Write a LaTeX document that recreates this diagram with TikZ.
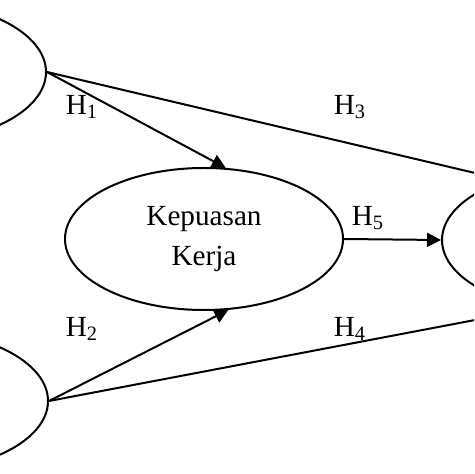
\documentclass[tikz,border=0pt]{standalone}
\usepackage{fontspec}
\setmainfont{Liberation Serif}
\usetikzlibrary{arrows.meta,shapes.geometric}
\tikzset{
  var/.style={draw,ellipse,line width=1pt,minimum width=139pt,minimum height=71pt,inner sep=0pt,
    align=center,font=\fontsize{14.6}{20}\selectfont},
  hyp/.style={font=\fontsize{14.6}{18}\selectfont,inner sep=0pt},
  hpath/.style={line width=1pt,-{Triangle[length=7pt,width=7pt]}},
  hline/.style={line width=1pt}
}
\begin{document}
\begin{tikzpicture}[x=0.5pt,y=-0.5pt]
\useasboundingbox (0,0) rectangle (474,474);
\clip (0,0) rectangle (474,474);
\node[var] (x1) at (-93,72) {};
\node[var] (x2) at (-91,401) {};
\node[var] (kk) at (204,239) {Kepuasan\\Kerja};
\node[var] (y) at (581,240) {};
% hipotesis
\draw[hpath] (x1.east) -- (kk.73);
\draw[hpath] (x2.east) -- (kk.-71);
\draw[hpath] (kk.east) -- (y.west);
\draw[hline] (x1.east) -- (y.142);
\draw[hline] (x2.east) -- (y.237);
\node[hyp] (h1) at (82,107) {H\textsubscript{1}};
\node[hyp] (h2) at (82,329) {H\textsubscript{2}};
\node[hyp] (h3) at (350,107) {H\textsubscript{3}};
\node[hyp] (h4) at (350,329) {H\textsubscript{4}};
\node[hyp] (h5) at (368,218) {H\textsubscript{5}};
\end{tikzpicture}
\end{document}
